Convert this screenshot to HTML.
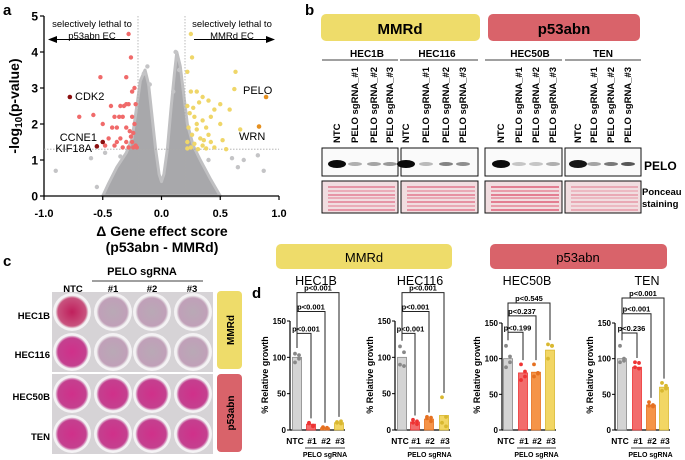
<!DOCTYPE html>
<html><head><meta charset="utf-8"><style>
html,body{margin:0;padding:0;background:#fff;width:685px;height:460px;overflow:hidden}
svg text{font-family:"Liberation Sans",Arial,sans-serif}
</style></head><body>
<svg id="fig" width="685" height="460" viewBox="0 0 685 460" xmlns="http://www.w3.org/2000/svg">
<defs>
<radialGradient id="magW" cx="50%" cy="50%" r="50%"><stop offset="0" stop-color="#d0308a"/><stop offset="0.85" stop-color="#c4408f"/><stop offset="1" stop-color="#e8d8e4"/></radialGradient>
<radialGradient id="greyW" cx="50%" cy="50%" r="50%"><stop offset="0" stop-color="#b9a9b6"/><stop offset="0.85" stop-color="#c0a0b8"/><stop offset="1" stop-color="#eee"/></radialGradient>
<radialGradient id="darkW" cx="50%" cy="50%" r="50%"><stop offset="0" stop-color="#c01f5c"/><stop offset="0.85" stop-color="#c8527e"/><stop offset="1" stop-color="#eee"/></radialGradient>
</defs>
<text x="3" y="15" font-size="15" font-weight="bold">a</text>
<text x="305" y="15" font-size="15" font-weight="bold">b</text>
<text x="3" y="266" font-size="15" font-weight="bold">c</text>
<text x="252" y="298" font-size="15" font-weight="bold">d</text>

<g id="volcano"></g>

<g>
<rect x="321" y="14" width="159" height="27" rx="5" fill="#eedc6a"/>
<text x="400" y="34" font-size="15" font-weight="bold" text-anchor="middle">MMRd</text>
<rect x="488" y="14" width="152" height="27" rx="5" fill="#d9636a"/>
<text x="564" y="34" font-size="15" font-weight="bold" text-anchor="middle">p53abn</text>
<g font-size="10" font-weight="bold" text-anchor="middle">
<text x="367" y="57">HEC1B</text>
<text x="437" y="57">HEC116</text>
<text x="530" y="57">HEC50B</text>
<text x="603" y="57">TEN</text>
</g>
<g stroke="#000" stroke-width="0.8">
<line x1="322" y1="60" x2="398" y2="60"/><line x1="400" y1="60" x2="478" y2="60"/>
<line x1="485" y1="60" x2="562" y2="60"/><line x1="565" y1="60" x2="641" y2="60"/>
</g>
<g id="lanes"></g>
<g id="blots"></g>
<text x="644" y="170" font-size="12" font-weight="bold">PELO</text>
<text x="642" y="195" font-size="9.5" font-weight="bold">Ponceau</text>
<text x="642" y="207" font-size="9.5" font-weight="bold">staining</text>
</g>

<g>
<text x="142" y="275" font-size="11" font-weight="bold" text-anchor="middle">PELO sgRNA</text>
<line x1="92" y1="281" x2="203" y2="281" stroke="#000" stroke-width="0.8"/>
<g font-size="9.5" font-weight="bold" text-anchor="middle">
<text x="73" y="292">NTC</text>
<text x="113" y="292">#1</text>
<text x="152" y="292">#2</text>
<text x="192" y="292">#3</text>
</g>
<g id="plates"></g>
<g font-size="9.5" font-weight="bold" text-anchor="end">
<text x="50" y="319">HEC1B</text>
<text x="50" y="358">HEC116</text>
<text x="50" y="400">HEC50B</text>
<text x="50" y="440">TEN</text>
</g>
<rect x="217" y="291" width="25" height="78" rx="4" fill="#eedc6a"/>
<text transform="translate(234,330) rotate(-90)" font-size="10" font-weight="bold" text-anchor="middle">MMRd</text>
<rect x="217" y="374" width="25" height="78" rx="4" fill="#d9636a"/>
<text transform="translate(234,413) rotate(-90)" font-size="10" font-weight="bold" text-anchor="middle">p53abn</text>
</g>

<rect x="276" y="244" width="176" height="25" rx="5" fill="#eedc6a"/>
<text x="364" y="262" font-size="13" text-anchor="middle">MMRd</text>
<rect x="490" y="244" width="177" height="25" rx="5" fill="#d9636a"/>
<text x="578" y="262" font-size="13" text-anchor="middle">p53abn</text>
<g id="bars"></g>
</svg>
<script>
const redX=[-0.28,-0.26,-0.52,-0.3,-0.23,-0.25,-0.58,-0.7,-0.5,-0.43,-0.35,-0.32,-0.3,-0.28,-0.22,-0.4,-0.36,-0.33,-0.25,-0.42,-0.38,-0.3,-0.27,-0.24,-0.45,-0.35,-0.3,-0.25,-0.22,-0.4,-0.33,-0.28,-0.24,-0.38,-0.26,-0.48,-0.21,-0.23];
const redY=[4.5,3.85,3.3,3.3,3.0,2.9,2.25,2.2,2.0,2.5,2.5,2.5,2.55,2.55,2.55,2.2,2.2,2.2,2.2,1.9,1.9,1.9,1.8,1.75,1.6,1.6,1.5,1.5,1.4,1.4,1.35,1.35,1.35,1.5,1.65,1.4,1.35,2.0];
const yelX=[0.25,0.26,0.22,0.63,0.62,0.25,0.3,0.35,0.5,0.58,0.4,0.45,0.32,0.22,0.24,0.28,0.35,0.42,0.67,0.23,0.3,0.38,0.26,0.33,0.4,0.22,0.28,0.35,0.42,0.25,0.31,0.38,0.22,0.45,0.52,0.55,0.3,0.5,0.27,0.36];
const yelY=[4.5,3.85,3.45,3.45,2.97,2.9,2.9,2.75,2.55,2.4,2.65,2.4,2.6,2.5,2.3,2.2,2.1,2.2,1.85,1.9,1.85,1.9,1.7,1.6,1.7,1.5,1.45,1.4,1.5,1.35,1.3,1.32,1.32,1.35,1.55,1.3,2.0,2.0,2.45,1.55];
const greyX=[-0.9,-0.55,0.82,0.87,0.6,0.7,-0.48,-0.12,0.12,0.15,-0.15,-0.1,0.1,-0.6,0.65,-0.35,0.4];
const greyY=[0.7,0.25,1.13,0.7,1.05,1.0,1.2,3.6,4.0,3.5,3.4,3.1,2.9,1.05,0.8,1.1,1.0];
const cloudX=[-0.5,-0.45,-0.38,-0.3,-0.25,-0.21,-0.18,-0.14,-0.11,-0.08,-0.05,-0.02,0,0.02,0.05,0.08,0.11,0.13,0.16,0.19,0.22,0.27,0.33,0.42,0.5];
const cloudY=[0,0.35,0.8,1.2,1.6,2.5,3.2,3.5,3.1,2.2,1.3,0.6,0.4,0.6,1.3,2.4,3.4,4.0,3.6,2.8,2.0,1.4,1.0,0.45,0];
const darkRedLab=["CDK2","CCNE1","KIF18A"],darkRedX=[-0.78,-0.5,-0.55],darkRedY=[2.75,1.5,1.38];
const orangeLab=["PELO","WRN"],orangeX=[0.89,0.83],orangeY=[2.75,1.93];
const vXTicks=[-1.0,-0.5,0.0,0.5,1.0],vYTicks=[0,1,2,3,4,5];

const NS="http://www.w3.org/2000/svg";
function mk(parent,tag,attrs,text){const e=document.createElementNS(NS,tag);for(const k in attrs)e.setAttribute(k,attrs[k]);if(text!==undefined)e.textContent=text;parent.appendChild(e);return e;}
const sx=v=>161.5+v*117.5, sy=v=>196-v*36;
const vg=document.getElementById('volcano');
let pts=cloudX.map((x,i)=>sx(x)+','+sy(cloudY[i])).join(' ');
let cl=mk(vg,'polygon',{points:pts,fill:'#a8a8ab',stroke:'#c0c0c2','stroke-width':3,'stroke-linejoin':'round'});


let ax=mk(vg,'line',{x1:44,y1:16,x2:44,y2:196,stroke:'#000','stroke-width':1.3});


ax=mk(vg,'line',{x1:44,y1:196,x2:279,y2:196,stroke:'#000','stroke-width':1.3});


vYTicks.forEach(t=>{mk(vg,'line',{x1:40,x2:44,y1:sy(t),y2:sy(t),stroke:'#000','stroke-width':1.2});
 const l=mk(vg,'text',{x:38,y:sy(t)+4.5,'font-size':12,'font-weight':'bold','text-anchor':'end'},t);
 
 });
vXTicks.forEach(t=>{mk(vg,'line',{x1:sx(t),x2:sx(t),y1:196,y2:200,stroke:'#000','stroke-width':1.2});
 const l=mk(vg,'text',{x:sx(t),y:217,'font-size':11,'font-weight':'bold','text-anchor':'middle'},t.toFixed(1));
 
 });
greyX.forEach((x,i)=>{const c=mk(vg,'circle',{cx:sx(x),cy:sy(greyY[i]),r:2.2,fill:'#c4c4c6'});
 
 });
[-0.2,0.2].forEach(v=>mk(vg,'line',{x1:sx(v),x2:sx(v),y1:sy(5),y2:196,stroke:'#aaa','stroke-dasharray':'1.5,1.5','stroke-width':0.8}));
mk(vg,'line',{x1:44,x2:279,y1:sy(1.3),y2:sy(1.3),stroke:'#aaa','stroke-dasharray':'1.5,1.5','stroke-width':0.8});
redX.forEach((x,i)=>{const c=mk(vg,'circle',{cx:sx(x),cy:sy(redY[i]),r:2.2,fill:'#f06a6a'});
 
 });
yelX.forEach((x,i)=>{const c=mk(vg,'circle',{cx:sx(x),cy:sy(yelY[i]),r:2.2,fill:'#efd669'});
 
 });
darkRedX.forEach((x,i)=>{const c=mk(vg,'circle',{cx:sx(x),cy:sy(darkRedY[i]),r:2.3,fill:'#8b1010'});
 
 });
orangeX.forEach((x,i)=>{const c=mk(vg,'circle',{cx:sx(x),cy:sy(orangeY[i]),r:2.3,fill:'#e59020'});
 
 });
[["CDK2",75,100,'start'],["CCNE1",97,141,'end'],["KIF18A",92,152,'end'],["PELO",243,94,'start'],["WRN",239,140,'start']].forEach(a=>{
 const t=mk(vg,'text',{x:a[1],y:a[2],'font-size':11,'text-anchor':a[3]},a[0]);
 
 });
[["selectively lethal to",92,27],["p53abn EC",92,39],["selectively lethal to",232,27],["MMRd EC",232,39]].forEach(a=>{
 const t=mk(vg,'text',{x:a[1],y:a[2],'font-size':9.5,'text-anchor':'middle'},a[0]);
 
 });
mk(vg,'line',{x1:54,x2:130,y1:39.5,y2:39.5,stroke:'#000','stroke-width':1});
mk(vg,'polygon',{points:'48,39.5 57,36 57,43',fill:'#000'});
mk(vg,'line',{x1:194,x2:269,y1:39.5,y2:39.5,stroke:'#000','stroke-width':1});
mk(vg,'polygon',{points:'275,39.5 266,36 266,43',fill:'#000'});
let yt=mk(vg,'text',{transform:'translate(19,106) rotate(-90)','font-size':14,'font-weight':'bold','text-anchor':'middle'});
yt.innerHTML='-log<tspan font-size="10" dy="3">10</tspan><tspan dy="-3">(p-value)</tspan>';


let xt=mk(vg,'text',{x:162,y:236,'font-size':14,'font-weight':'bold','text-anchor':'middle'},'Δ Gene effect score');


xt=mk(vg,'text',{x:162,y:252,'font-size':14,'font-weight':'bold','text-anchor':'middle'},'(p53abn - MMRd)');



const laneX=[[336,354,373,389],[405,425,445,462],[500,518,535,552],[577,593,610,627]];
const boxX=[[322,398],[401,478],[485,562],[565,641]];
const bandInt=[[1,0.25,0.3,0.35],[1,0.2,0.45,0.4],[1,0.15,0.15,0.25],[0.95,0.3,0.5,0.65]];
const ponc=[0.75,0.8,1,0.55];
const lg=document.getElementById('lanes'), bg=document.getElementById('blots');
laneX.forEach(g=>g.forEach((x,i)=>{
 const t=mk(lg,'text',{transform:`translate(${x+4},143) rotate(-90)`,'font-size':9.5,'font-weight':'bold'},i==0?'NTC':'PELO sgRNA_#'+i);
 
 }));
boxX.forEach((b,k)=>{
 const r=mk(bg,'rect',{x:b[0],y:148,width:b[1]-b[0],height:28,fill:'#fafafa',stroke:'#111','stroke-width':1});
 
 
 laneX[k].forEach((x,i)=>{const v=bandInt[k][i];
  mk(bg,'ellipse',{cx:x+1,cy:164,rx:i==0?9:7,ry:i==0?4:2,fill:`rgb(${Math.round(230-220*v)},${Math.round(230-220*v)},${Math.round(230-220*v)})`});});
 const p=mk(bg,'rect',{x:b[0],y:181,width:b[1]-b[0],height:32,fill:'#f1dde0',stroke:'#111','stroke-width':1});
 
 
 [186,190,194,197,201,205,209].forEach((y,j)=>mk(bg,'rect',{x:b[0]+6,y:y,width:b[1]-b[0]-9,height:2,fill:'#e0667e','opacity':ponc[k]*(j%2?0.55:0.8)}));
});

const rowsY=[312,352,394,434];
const wellFill=[["darkW","greyW","greyW","greyW"],["magW","greyW","greyW","greyW"],["magW","magW","magW","magW"],["magW","magW","magW","magW"]];
const plg=document.getElementById('plates');
rowsY.forEach((y,r)=>{
 mk(plg,'rect',{x:52,y:y-20,width:161,height:40,fill:'#d6d3d6'});
 [72,113,152,193].forEach((x,c)=>{
  mk(plg,'circle',{cx:x,cy:y,r:19,fill:'#f4f2f4'});
  const w=mk(plg,'circle',{cx:x,cy:y,r:16.5,fill:`url(#${wellFill[r][c]})`});
  
  });});

const growthCats=["NTC","#1","#2","#3"];
const hec1bVals=[100,8,3,10];
const hec116Vals=[100,11,15,20];
const hec50bVals=[100,80,81,112];
const tenVals=[100,88,35,60];
const hec1bDots=[[105,98,93,103],[10,6,9,5],[3,2,4,3],[11,9,10,12]];
const hec116Dots=[[115,107,90,88],[14,8,10,12],[18,12,16,17],[45,18,10,5]];
const hec50bDots=[[118,103,88,95],[92,75,70,82],[92,79,75,80],[120,118,100,118]];
const tenDots=[[118,100,95,97],[95,94,88,86],[39,35,34,33],[66,58,55,62]];
const hec1bP=["p<0.001","p<0.001","p<0.001"], hec116P=["p<0.001","p<0.001","p<0.001"];
const hec50bP=["p<0.199","p<0.237","p<0.545"], tenP=["p<0.236","p<0.001","p<0.001"];
const hec1bLev=[133,163,189], hec116Lev=[133,163,189], hec50bLev=[137,160,178], tenLev=[136,163,185];
const yTicksG=[0,50,100,150];
const charts=[
 {name:'hec1b',title:'HEC1B',tx:316,axis:290,bars:[297,311,325,339],vals:hec1bVals,dots:hec1bDots,p:hec1bP,lev:hec1bLev,top:321},
 {name:'hec116',title:'HEC116',tx:420,axis:395,bars:[402,415,429,444],vals:hec116Vals,dots:hec116Dots,p:hec116P,lev:hec116Lev,top:321},
 {name:'hec50b',title:'HEC50B',tx:527,axis:502,bars:[508,523,536,550],vals:hec50bVals,dots:hec50bDots,p:hec50bP,lev:hec50bLev,top:323},
 {name:'ten',title:'TEN',tx:647,axis:615,bars:[622,637,651,664],vals:tenVals,dots:tenDots,p:tenP,lev:tenLev,top:323}];
const barCol=['#d4d4d4','#f26d6d','#f59448','#f2d664'], barStroke=['#888','#e33','#e57020','#d9b830'];
const gb=document.getElementById('bars');
charts.forEach(c=>{
 const y0=430, k=(y0-c.top)/150, Y=v=>y0-v*k;
 const tt=mk(gb,'text',{x:c.tx,y:285,'font-size':12.5,'text-anchor':'middle'},c.title);
 
 
 const a=mk(gb,'line',{x1:c.axis,x2:c.axis,y1:Y(150),y2:y0,stroke:'#000','stroke-width':1.2});
 
 
 mk(gb,'line',{x1:c.axis,x2:c.bars[3]+6,y1:y0,y2:y0,stroke:'#000','stroke-width':1.2});
 yTicksG.forEach(t=>{mk(gb,'line',{x1:c.axis-3,x2:c.axis,y1:Y(t),y2:Y(t),stroke:'#000'});
  const l=mk(gb,'text',{x:c.axis-4,y:Y(t)+3,'font-size':8,'font-weight':'bold','text-anchor':'end'},t);
  
  });
 const yl=mk(gb,'text',{transform:`translate(${c.axis-22},375) rotate(-90)`,'font-size':9,'font-weight':'bold','text-anchor':'middle'},'% Relative growth');
 
 
 c.vals.forEach((v,i)=>{
  const b=mk(gb,'rect',{x:c.bars[i]-4.5,y:Y(v),width:9,height:y0-Y(v),fill:barCol[i],stroke:barStroke[i],'stroke-width':0.8});
  
  
  c.dots[i].forEach((d,j)=>{const p=mk(gb,'circle',{cx:c.bars[i]+(j%2?2:-2),cy:Y(d),r:1.9,fill:barStroke[i]});
   
   });
  const l=mk(gb,'text',{x:c.bars[i]+(i==0?-2:1),y:444,'font-size':8.5,'font-weight':'bold','text-anchor':'middle'},growthCats[i]);
  
  
 });
 mk(gb,'line',{x1:c.bars[1]-6,x2:c.bars[3]+6,y1:448,y2:448,stroke:'#000','stroke-width':0.8});
 const sg=mk(gb,'text',{x:(c.bars[1]+c.bars[3])/2,y:457,'font-size':7,'font-weight':'bold','text-anchor':'middle'},'PELO sgRNA');
 
 
 c.lev.forEach((L,i)=>{
  const yb=Y(L), x0=c.bars[0], x1=c.bars[i+1];
  const br=mk(gb,'polyline',{points:`${x0},${Y(c.dots[0][0]+8)} ${x0},${yb} ${x1},${yb} ${x1},${Y(Math.max(...c.dots[i+1])+6)}`,fill:'none',stroke:'#222','stroke-width':1});
  
  
  const pt=mk(gb,'text',{x:(x0+x1)/2+ (i==0?2:0),y:yb-2,'font-size':7.5,'font-weight':'bold','text-anchor':'middle'},c.p[i]);
  
  
 });
});
</script>
</body></html>
